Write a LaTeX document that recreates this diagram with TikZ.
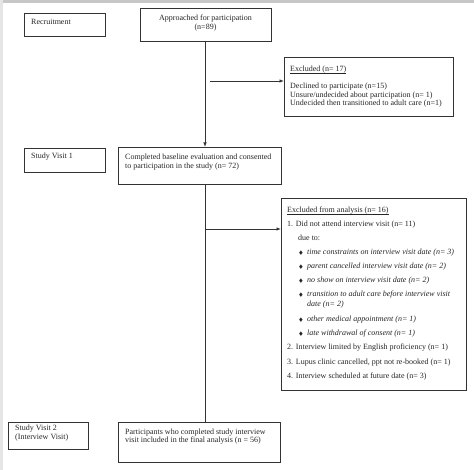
\documentclass[tikz,border=0pt]{standalone}
\usepackage{fontspec}
\setmainfont{Liberation Serif}
\usepackage{amssymb}
\usetikzlibrary{arrows.meta}
\tikzset{
  box/.style={draw=black!80, line width=0.8pt, anchor=north west, inner sep=0pt},
  txt/.style={anchor=west, inner sep=0pt, font=\fontsize{8}{9}\selectfont, text height=5.5pt, text depth=1.5pt, text=black!85},
  ctxt/.style={txt, anchor=center},
  conn/.style={draw=black!80, line width=0.8pt},
  arr/.style={conn, -{Latex[length=4.5pt,width=3.5pt]}},
  bul/.style={ctxt, font=\fontsize{5}{6}\selectfont}
}
\newcommand{\bulletmark}{$\blacklozenge$}
\newcommand{\ulnear}[1]{\underline{\vphantom{x}\smash{#1}}}
\begin{document}
\begin{tikzpicture}[x=1pt,y=-1pt]
\useasboundingbox (0,0) rectangle (474,470);
\fill[white] (0,0) rectangle (474,470);
% faint outer frame
\fill[black!22] (0,0) rectangle (474,3);
\fill[black!10] (0,0) rectangle (3,470);

% boxes
\node[box, minimum width=81pt, minimum height=23pt] (rec) at (24,13) {};
\node[box, minimum width=131pt, minimum height=33pt] (app) at (140,8) {};
\node[box, minimum width=169pt, minimum height=59pt] (exc) at (284,57) {};
\node[box, minimum width=81pt, minimum height=24pt] (sv1) at (24,148) {};
\node[box, minimum width=163pt, minimum height=37pt] (comp) at (118,147) {};
\node[box, minimum width=185pt, minimum height=192pt] (exa) at (281,198) {};
\node[box, minimum width=80pt, minimum height=27pt] (sv2) at (8,422) {};
\node[box, minimum width=162pt, minimum height=40pt] (part) at (118,422) {};

% texts
\node[txt] (trec) at (31,23) {Recruitment};
\node[ctxt] (tapp1) at (205.5,19) {Approached for participation};
\node[ctxt] (tapp2) at (205.5,27.5) {(n=89)};

\node[txt] (texc0) at (290,70) {\ulnear{Excluded (n= 17)}};
\node[txt] (texc1) at (290,87) {Declined to participate (n=15)};
\node[txt] (texc2) at (290,95.5) {Unsure/undecided about participation (n= 1)};
\node[txt] (texc3) at (290,104) {Undecided then transitioned to adult care (n=1)};

\node[txt] (tsv1) at (31,157) {Study Visit 1};
\node[txt] (tcomp1) at (125,158) {Completed baseline evaluation and consented};
\node[txt] (tcomp2) at (125,166.5) {to participation in the study (n= 72)};

\node[txt] (tea0) at (287,211) {\ulnear{Excluded from analysis (n= 16)}};
\node[txt] (tea1) at (287,224.5) {1. Did not attend interview visit (n= 11)};
\node[txt] (tea2) at (298,238.5) {due to:};
\node[bul] (b1) at (301,252.5) {\bulletmark};
\node[txt] (tea3) at (307,252.5) {\itshape time constraints on interview visit date (n= 3)};
\node[bul] (b2) at (301,266.5) {\bulletmark};
\node[txt] (tea4) at (307,266.5) {\itshape parent cancelled interview visit date (n= 2)};
\node[bul] (b3) at (301,280.5) {\bulletmark};
\node[txt] (tea5) at (307,280.5) {\itshape no show on interview visit date (n= 2)};
\node[bul] (b4) at (301,295) {\bulletmark};
\node[txt] (tea6) at (307,295) {\itshape transition to adult care before interview visit};
\node[txt] (tea7) at (307,304.5) {\itshape date (n= 2)};
\node[bul] (b5) at (301,320) {\bulletmark};
\node[txt] (tea8) at (307,320) {\itshape other medical appointment (n= 1)};
\node[bul] (b6) at (301,334) {\bulletmark};
\node[txt] (tea9) at (307,334) {\itshape late withdrawal of consent (n= 1)};
\node[txt] (tea10) at (287,348) {2. Interview limited by English proficiency (n= 1)};
\node[txt] (tea11) at (287,362.5) {3. Lupus clinic cancelled, ppt not re-booked (n= 1)};
\node[txt] (tea12) at (287,376.5) {4. Interview scheduled at future date (n= 3)};

\node[txt] (tsv2a) at (15,428.5) {Study Visit 2};
\node[txt] (tsv2b) at (15,437) {(Interview Visit)};
\node[txt] (tpart1) at (125,432) {Participants who completed study interview};
\node[txt] (tpart2) at (125,440.5) {visit included in the final analysis (n = 56)};

% connectors
\coordinate (a1) at (210,81);
\coordinate (a2) at (205,229);
\draw[arr] (app.south -| a2) -- (a2 |- comp.north);
\draw[arr] (a1) -- (a1 -| exc.west);
\draw[conn] (a2 |- comp.south) -- (a2 |- part.north);
\draw[arr] (a2) -- (a2 -| exa.west);
\end{tikzpicture}
\end{document}
